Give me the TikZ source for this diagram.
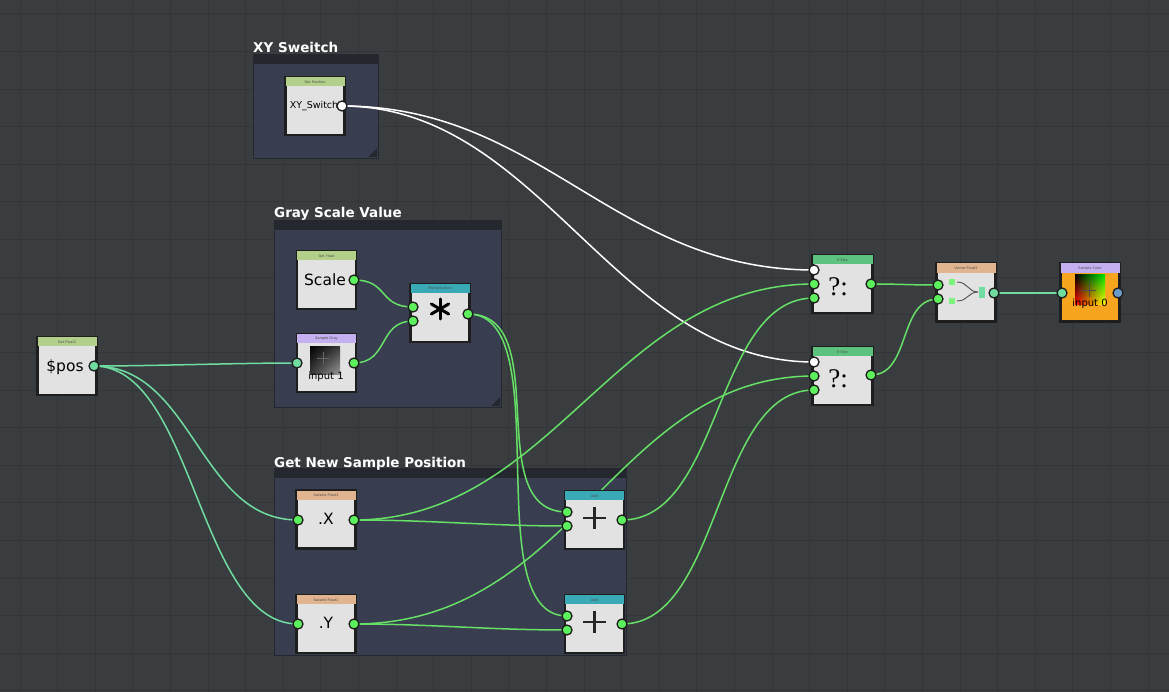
\documentclass[tikz,border=0pt]{standalone}
\usepackage{fontspec}
\usetikzlibrary{shadings}
\setmainfont{DejaVu Sans}
\newfontfamily\serifq{Liberation Serif}
\definecolor{bgc}{HTML}{3A3D40}
\definecolor{gridc}{HTML}{333639}
\definecolor{grpbody}{HTML}{393D50}
\definecolor{grphead}{HTML}{25272F}
\definecolor{nodeedge}{HTML}{1E1E1E}
\definecolor{nodebody}{HTML}{E2E2E2}
\definecolor{hgreen}{HTML}{B2D08A}
\definecolor{hpurple}{HTML}{C4B0F0}
\definecolor{hteal}{HTML}{3AA9B6}
\definecolor{htan}{HTML}{DFB48F}
\definecolor{hif}{HTML}{5EC27F}
\definecolor{wgreen}{HTML}{66E066}
\definecolor{wmint}{HTML}{70DCA0}
\definecolor{pgreen}{HTML}{5CF05C}
\definecolor{pmint}{HTML}{70DCA0}
\definecolor{pblue}{HTML}{6A9AC8}
\definecolor{orangeb}{HTML}{F7A51E}
\newcommand{\nodehead}[4]{%
  \fill[#2] ([xshift=1.3pt,yshift=-1.3pt]#1.north west) rectangle ([xshift=-1.3pt,yshift=-10.5pt]#1.north east);
  \node[htext] (#1-h) at ([yshift=-6pt]#1.north) {#3#4};}
\begin{document}
\begin{tikzpicture}[x=1pt,y=-1pt,
  nbox/.style={draw=nodeedge, line width=2.6pt, fill=nodebody, inner sep=0pt, minimum width=59pt, minimum height=58pt},
  htext/.style={font=\fontsize{3.5}{4}\selectfont, text=black!70, inner sep=0pt},
  big/.style={font=\fontsize{15.5}{18}\selectfont, text=black, inner sep=0pt},
  gtitle/.style={font=\fontsize{13.5}{16}\selectfont\bfseries, text=white, inner sep=0pt, anchor=base west},
  wire/.style={line width=1.5pt},
  wg/.style={wire, draw=wgreen},
  wm/.style={wire, draw=wmint},
  ww/.style={wire, draw=white},
  port/.style={circle, draw=nodeedge, line width=1.3pt, minimum size=10pt, inner sep=0pt},
  pg/.style={port, fill=pgreen},
  pm/.style={port, fill=pmint},
  pw/.style={port, fill=white},
  pb/.style={port, fill=pblue}]
\useasboundingbox (0,0) rectangle (1169,692);
\fill[bgc] (0,0) rectangle (1169,692);
\foreach \i in {0,...,31} \draw[gridc, line width=1pt] (\i*37.6+20,0) -- (\i*37.6+20,692);
\foreach \j in {0,...,18} \draw[gridc, line width=1pt] (0,\j*37.6+14) -- (1169,\j*37.6+14);

% groups
\foreach \x/\y/\X/\Y in {253/54/378/158, 274/220/501/407, 274/468/626/655}{
  \fill[grpbody] (\x,\y) rectangle (\X,\Y);
  \fill[grphead] (\x,\y) rectangle (\X,\y+10);
  \draw[grphead, line width=0.8pt] (\x,\y) rectangle (\X,\Y);
  \fill[grphead] (\X-1,\Y-10) -- (\X-1,\Y-1) -- (\X-10,\Y-1) -- cycle;
}
\node[gtitle] (t1) at (253,53) {XY Sweitch};
\node[gtitle] (t2) at (274,218) {Gray Scale Value};
\node[gtitle] (t3) at (274,467) {Get New Sample Position};

% port coordinates
\coordinate (xy-o) at (342,106);
\coordinate (sc-o) at (354,280);
\coordinate (sg-i) at (297,363);
\coordinate (sg-o) at (354,363);
\coordinate (mu-i1) at (413,307);
\coordinate (mu-i2) at (413,321);
\coordinate (mu-o) at (468,314);
\coordinate (pos-o) at (94,366);
\coordinate (x-i) at (298,520);
\coordinate (x-o) at (354,520);
\coordinate (y-i) at (298,624);
\coordinate (y-o) at (354,624);
\coordinate (a1-i1) at (567,512);
\coordinate (a1-i2) at (567,526);
\coordinate (a1-o) at (622,520);
\coordinate (a2-i1) at (567,616);
\coordinate (a2-i2) at (567,630);
\coordinate (a2-o) at (622,624);
\coordinate (ie1-i1) at (814,270);
\coordinate (ie1-i2) at (814,284);
\coordinate (ie1-i3) at (814,298);
\coordinate (ie1-o) at (871,284);
\coordinate (ie2-i1) at (814,362);
\coordinate (ie2-i2) at (814,376);
\coordinate (ie2-i3) at (814,390);
\coordinate (ie2-o) at (871,375);
\coordinate (vf-i1) at (938,285);
\coordinate (vf-i2) at (938,299);
\coordinate (vf-o) at (994,293);
\coordinate (cs-i) at (1062,293);
\coordinate (cs-o) at (1118,293);

% wires
\draw[ww] (xy-o) .. controls +(200,0) and +(-200,0) .. (ie1-i1);
\draw[ww] (xy-o) .. controls +(200,0) and +(-200,0) .. (ie2-i1);
\draw[wg] (sc-o) .. controls +(35,0) and +(-35,0) .. (mu-i1);
\draw[wg] (sg-o) .. controls +(35,0) and +(-35,0) .. (mu-i2);
\draw[wm] (pos-o) .. controls +(60,0) and +(-60,0) .. (sg-i);
\draw[wm] (pos-o) .. controls +(100,0) and +(-100,0) .. (x-i);
\draw[wm] (pos-o) .. controls +(100,0) and +(-100,0) .. (y-i);
\draw[wg] (mu-o) .. controls +(88,0) and +(-88,0) .. (a1-i1);
\draw[wg] (mu-o) .. controls +(92,0) and +(-92,0) .. (a2-i1);
\draw[wg] (x-o) .. controls +(80,0) and +(-80,0) .. (a1-i2);
\draw[wg] (x-o) .. controls +(200,0) and +(-200,0) .. (ie1-i2);
\draw[wg] (y-o) .. controls +(80,0) and +(-80,0) .. (a2-i2);
\draw[wg] (y-o) .. controls +(220,0) and +(-200,0) .. (ie2-i2);
\draw[wg] (a1-o) .. controls +(100,0) and +(-100,0) .. (ie1-i3);
\draw[wg] (a2-o) .. controls +(100,0) and +(-100,0) .. (ie2-i3);
\draw[wg] (ie1-o) .. controls +(30,0) and +(-30,0) .. (vf-i1);
\draw[wg] (ie2-o) .. controls +(40,0) and +(-40,0) .. (vf-i2);
\draw[wm] (vf-o) -- (cs-i);

% nodes
\node[nbox] (getpos) at (315,106) {};
\nodehead{getpos}{hgreen}{Get Position}{}
\node[font=\fontsize{9.5}{11}\selectfont, inner sep=0pt] (getpos-l) at (314,106) {XY\_Switch};

\node[nbox] (scale) at (326.5,280) {};
\nodehead{scale}{hgreen}{Get Float}{}
\node[big] (scale-l) at (325,280) {Scale};

\node[nbox] (sgray) at (326.5,363) {};
\nodehead{sgray}{hpurple}{Sample Gray}{}
\shade[upper left=black, upper right=gray!45!black, lower left=gray!45!black, lower right=gray!80!white] (310,346) rectangle (340,374);
\draw[black!60, line width=0.7pt] (317,358) -- (329,358) (323,352) -- (323,364);
\node[font=\fontsize{10}{12}\selectfont, inner sep=0pt] (sgray-l) at (326,377) {input 1};

\node[nbox] (mult) at (440,313) {};
\nodehead{mult}{hteal}{Multiplication}{}
\foreach \a in {90,30,150}
  \draw[black, line width=3pt, line cap=round] (440,309) ++(\a:-10) -- ++(\a:20);

\node[nbox] (pos) at (67,366) {};
\nodehead{pos}{hgreen}{Get Float2}{}
\node[big] (pos-l) at (65,367) {\$pos};

\node[nbox] (xn) at (326,519.5) {};
\nodehead{xn}{htan}{Swizzle Float1}{}
\node[big] (xn-l) at (326,519) {.X};

\node[nbox] (yn) at (326,624) {};
\nodehead{yn}{htan}{Swizzle Float1}{}
\node[big] (yn-l) at (326,623) {.Y};

\node[nbox] (add1) at (594.5,520) {};
\nodehead{add1}{hteal}{Add}{}
\draw[black!85, line width=2.6pt] (583,518) -- (606,518) (594.5,507) -- (594.5,529);

\node[nbox] (add2) at (594.5,624) {};
\nodehead{add2}{hteal}{Add}{}
\draw[black!85, line width=2.6pt] (583,622) -- (606,622) (594.5,611) -- (594.5,633);

\node[nbox, minimum width=60pt] (ie1) at (842.5,284) {};
\nodehead{ie1}{hif}{If Else}{}
\node[font=\fontsize{27}{30}\selectfont\serifq, inner sep=0pt] (ie1-l) at (838,287) {?:};

\node[nbox, minimum width=60pt] (ie2) at (842.5,376) {};
\nodehead{ie2}{hif}{If Else}{}
\node[font=\fontsize{27}{30}\selectfont\serifq, inner sep=0pt] (ie2-l) at (838,379) {?:};

\node[nbox] (vf) at (966,292.5) {};
\nodehead{vf}{htan}{Vector Float2}{}
\fill[pgreen!80!white] (949,279) rectangle (955,285);
\fill[pgreen!80!white] (949,298) rectangle (955,304);
\fill[pmint] (979,287) rectangle (985,298);
\draw[black!65, line width=1pt] (957,282) .. controls (968,282) and (968,292) .. (978,292);
\draw[black!65, line width=1pt] (957,301) .. controls (968,301) and (968,292) .. (978,292);

\node[nbox, fill=orangeb] (scol) at (1090,292.5) {};
\nodehead{scol}{hpurple}{Sample Color}{}
\shade[upper left=black, upper right=green!90!black, lower left=red, lower right=yellow] (1075,275) rectangle (1105,305);
\draw[black!70, line width=0.8pt] (1082,290) -- (1096,290) (1089,283) -- (1089,297);
\node[font=\fontsize{10}{12}\selectfont, inner sep=0pt] (scol-l) at (1090,304) {input 0};

% ports
\foreach \p/\s in {xy-o/pw, sc-o/pg, sg-i/pm, sg-o/pg, mu-i1/pg, mu-i2/pg, mu-o/pg, pos-o/pm,
  x-i/pg, x-o/pg, y-i/pg, y-o/pg, a1-i1/pg, a1-i2/pg, a1-o/pg, a2-i1/pg, a2-i2/pg, a2-o/pg,
  ie1-i1/pw, ie1-i2/pg, ie1-i3/pg, ie1-o/pg, ie2-i1/pw, ie2-i2/pg, ie2-i3/pg, ie2-o/pg,
  vf-i1/pg, vf-i2/pg, vf-o/pm, cs-i/pm, cs-o/pb}
  \node[\s] (\p-dot) at (\p) {};
\end{tikzpicture}
\end{document}
